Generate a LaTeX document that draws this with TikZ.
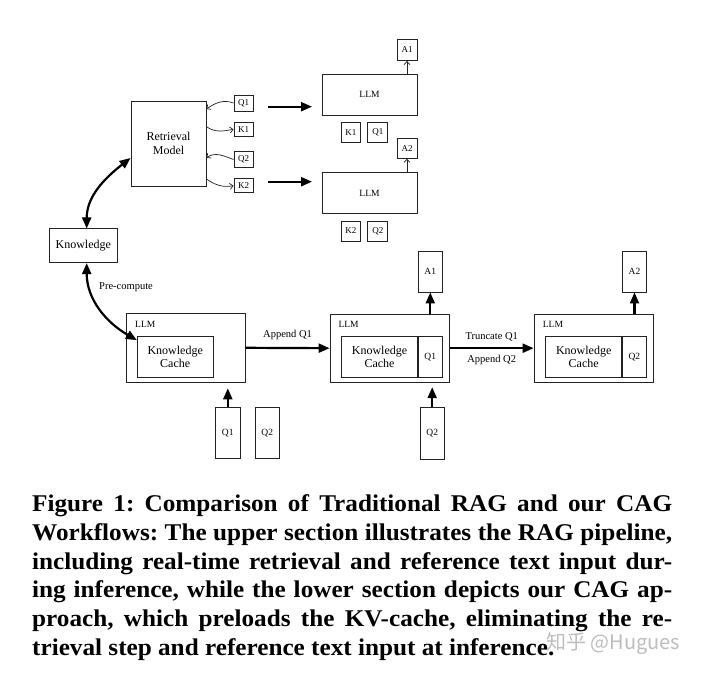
\documentclass[tikz,border=0pt]{standalone}
\usepackage{fontspec}
\setmainfont{Liberation Serif}
\newfontfamily\capfont[FakeStretch=1.05]{Liberation Serif}
\newfontfamily\wmfont{Noto Sans CJK SC}
\usetikzlibrary{arrows.meta}
\definecolor{ln}{HTML}{222222}
\definecolor{wm}{HTML}{BDBDBD}
\frenchspacing
\tikzset{
  box/.style={draw=ln, line width=0.9pt, inner sep=0pt, align=center, text=black},
  sbox/.style={box, font=\fontsize{9}{10}\selectfont},
  bbox/.style={box, font=\fontsize{12}{13.5}\selectfont},
  mbox/.style={box, font=\fontsize{9.5}{11}\selectfont},
  lab/.style={inner sep=0pt, font=\fontsize{10.5}{12}\selectfont},
  llmlab/.style={inner sep=0pt, anchor=west, font=\fontsize{9.5}{11}\selectfont},
  thin/.style={draw=ln, line width=0.7pt, -{Straight Barb[length=3.2pt,width=6pt]}},
  thick/.style={draw=black, line width=2.2pt, -{Triangle[length=11pt,width=9pt]}},
  thickboth/.style={draw=black, line width=2.2pt, {Triangle[length=11pt,width=9pt]}-{Triangle[length=11pt,width=9pt]}},
  capline/.style={inner sep=0pt, anchor=base west, font=\capfont\bfseries\fontsize{24}{28}\selectfont},
}
\begin{document}
\begin{tikzpicture}[x=1pt,y=-1pt]
\useasboundingbox[fill=white] (0,0) rectangle (702,676);

% ---------------- RAG (upper) ----------------
\node[bbox, minimum width=75pt, minimum height=85pt] (ret) at (168.5,143.5) {Retrieval\\Model};
\node[sbox, minimum width=19pt, minimum height=16pt] (q1s) at (243.5,103) {Q1};
\node[sbox, minimum width=19pt, minimum height=14pt] (k1s) at (243.5,129.3) {K1};
\node[sbox, minimum width=19pt, minimum height=16pt] (q2s) at (243.5,159.5) {Q2};
\node[sbox, minimum width=19pt, minimum height=14pt] (k2s) at (243.5,185.7) {K2};

\draw[thin] (q1s.west) to[out=160,in=35] ([yshift=34.5pt]ret.east);
\draw[thin] ([yshift=16.8pt]ret.east) to[out=-35,in=190] (k1s.west);
\draw[thin] (q2s.west) to[out=160,in=35] ([yshift=-14.2pt]ret.east);
\draw[thin] ([yshift=-35.5pt]ret.east) to[out=-35,in=190] (k2s.west);

\node[mbox, minimum width=95pt, minimum height=41pt] (llmA) at (369.5,94.5) {LLM};
\node[sbox, minimum width=20pt, minimum height=21pt] (a1s) at (407,50) {A1};
\node[sbox, minimum width=19pt, minimum height=20pt] (k1b) at (350.8,132.7) {K1};
\node[sbox, minimum width=20pt, minimum height=20pt] (q1b) at (377.8,132.7) {Q1};

\node[mbox, minimum width=95pt, minimum height=41pt] (llmB) at (369.5,193) {LLM};
\node[sbox, minimum width=20pt, minimum height=20pt] (a2s) at (407,148.3) {A2};
\node[sbox, minimum width=19pt, minimum height=20pt] (k2b) at (350.8,231) {K2};
\node[sbox, minimum width=20pt, minimum height=20pt] (q2b) at (377.8,231) {Q2};

\draw[thin] (a1s.south |- llmA.north) -- (a1s.south);
\draw[thin] (a2s.south |- llmB.north) -- (a2s.south);

\coordinate (r1s) at (268,106.7);
\coordinate (r1e) at (312,106.7);
\coordinate (r2s) at (268,181.7);
\coordinate (r2e) at (312,181.7);
\draw[thick] (r1s) -- (r1e);
\draw[thick] (r2s) -- (r2e);

\node[bbox, minimum width=68.7pt, minimum height=33.7pt] (kn) at (83.3,245.8) {Knowledge};
\draw[thickboth] ([xshift=3.4pt]kn.north) to[out=90,in=-142] ([yshift=-14.5pt]ret.west);

% ---------------- CAG (lower) ----------------
\node[box, minimum width=119pt, minimum height=69pt] (llm1) at (185.5,347.8) {};
\node[llmlab] at (135,324.5) {LLM};
\node[bbox, minimum width=75.7pt, minimum height=41.3pt] (kc1) at (175.2,356.7) {Knowledge\\Cache};

\node[box, minimum width=119.3pt, minimum height=68.3pt] (llm2) at (389.7,348.2) {};
\node[llmlab] at (338.3,324.5) {LLM};
\node[bbox, minimum width=76.4pt, minimum height=40.7pt] (kc2) at (379.5,356.7) {Knowledge\\Cache};
\node[mbox, minimum width=24pt, minimum height=40.7pt] (q1in) at (430.3,356.7) {Q1};

\node[box, minimum width=119.3pt, minimum height=68.3pt] (llm3) at (593.7,348.2) {};
\node[llmlab] at (542.7,324.5) {LLM};
\node[bbox, minimum width=76pt, minimum height=40.7pt] (kc3) at (583.7,356.7) {Knowledge\\Cache};
\node[mbox, minimum width=24pt, minimum height=40.7pt] (q2in) at (634.3,356.7) {Q2};

\node[mbox, minimum width=24pt, minimum height=41pt] (a1t) at (430.3,271.5) {A1};
\node[mbox, minimum width=24.4pt, minimum height=41pt] (a2t) at (634.5,271.5) {A2};

\node[mbox, minimum width=24.3pt, minimum height=51.4pt] (q1t) at (227.8,433) {Q1};
\node[mbox, minimum width=24pt, minimum height=51.4pt] (q2t) at (267.3,433) {Q2};
\node[mbox, minimum width=24.3pt, minimum height=51.3pt] (q2u) at (432.2,433.3) {Q2};

\draw[thickboth] ([xshift=3.4pt]kn.south) to[out=-90,in=150] ([yshift=16.5pt]kc1.west);
\node[lab, anchor=west] at (99,287.3) {Pre-compute};

\draw[thick] (llm1.east) -- (llm2.west) node[lab, midway, above=7pt] {Append Q1};
\draw[thick] (llm2.east) -- (llm3.west)
  node[lab, midway, above=6pt] {Truncate Q1}
  node[lab, midway, below=6pt] {Append Q2};

\draw[thick] (a1t.south |- llm2.north) -- (a1t.south);
\draw[thick] (a2t.south |- llm3.north) -- (a2t.south);
\draw[thick] (q1t.north) -- ++(0,-18.5);
\draw[thick] (q2u.north) -- ++(0,-20);

% ---------------- caption ----------------
\node[capline] (c1) at (32,511.7) {\makebox[640pt][s]{Figure 1: Comparison of Traditional RAG and our CAG}};
\node[capline] (c2) at (32,540.3) {\makebox[640pt][s]{Workflows: The upper section illustrates the RAG pipeline,}};
\node[capline] (c3) at (32,569) {\makebox[640pt][s]{including real-time retrieval and reference text input dur-}};
\node[capline] (c4) at (32,597.7) {\makebox[640pt][s]{ing inference, while the lower section depicts our CAG ap-}};
\node[capline] (c5) at (32,626.3) {\makebox[640pt][s]{proach, which preloads the KV-cache, eliminating the re-}};
\node[capline] (c6) at (32,655) {trieval step and reference text input at inference.};

\node[inner sep=0pt, anchor=west, text=wm, font=\wmfont\fontsize{20}{22}\selectfont] (wmk) at (546,644) {知乎 @Hugues};
\end{tikzpicture}
\end{document}
